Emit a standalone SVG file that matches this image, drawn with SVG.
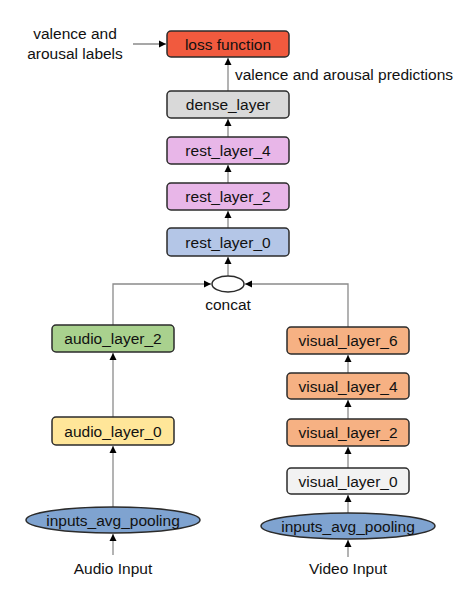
<svg xmlns="http://www.w3.org/2000/svg" width="474" height="604" viewBox="0 0 474 604">
<style>
.n{stroke:#2b2b2b;stroke-width:1.5}
.t{font-family:"Liberation Sans",Arial,sans-serif;font-size:15.5px;fill:#111;text-anchor:middle}
.l{stroke:#8a8a8a;stroke-width:1.3;fill:none}
</style>
<defs>
<marker id="ah" markerWidth="8" markerHeight="8" refX="7" refY="4" orient="auto" markerUnits="userSpaceOnUse">
<path d="M0,0.5 L7,4 L0,7.5 Z" fill="#000"/>
</marker>
</defs>
<rect width="474" height="604" fill="#fff"/>
<g id="connectors">
<line class="l" x1="133" y1="44" x2="166" y2="44" marker-end="url(#ah)"/>
<line class="l" x1="228" y1="91" x2="228" y2="58" marker-end="url(#ah)"/>
<line class="l" x1="228" y1="137" x2="228" y2="119" marker-end="url(#ah)"/>
<line class="l" x1="228" y1="183" x2="228" y2="165" marker-end="url(#ah)"/>
<line class="l" x1="228" y1="228" x2="228" y2="211" marker-end="url(#ah)"/>
<line class="l" x1="228" y1="276" x2="228" y2="257" marker-end="url(#ah)"/>
<polyline class="l" points="113,325 113,284 211,284" marker-end="url(#ah)"/>
<polyline class="l" points="348,327 348,284 245,284" marker-end="url(#ah)"/>
<line class="l" x1="113" y1="417" x2="113" y2="353" marker-end="url(#ah)"/>
<line class="l" x1="113" y1="507" x2="113" y2="446" marker-end="url(#ah)"/>
<line class="l" x1="113" y1="555" x2="113" y2="534" marker-end="url(#ah)"/>
<line class="l" x1="348" y1="373" x2="348" y2="355" marker-end="url(#ah)"/>
<line class="l" x1="348" y1="419" x2="348" y2="400" marker-end="url(#ah)"/>
<line class="l" x1="348" y1="468" x2="348" y2="447" marker-end="url(#ah)"/>
<line class="l" x1="348" y1="513" x2="348" y2="495" marker-end="url(#ah)"/>
<line class="l" x1="348" y1="557" x2="348" y2="540" marker-end="url(#ah)"/>
</g>
<g id="labels">
<text class="t" x="75" y="39">valence and</text>
<text class="t" x="75" y="59">arousal labels</text>
<text class="t" x="235" y="80" style="text-anchor:start">valence and arousal predictions</text>
</g>
<g id="loss_function"><rect class="n" x="167" y="31" width="122" height="26" rx="4" fill="#f15a3e"/><text class="t" x="228" y="49.5">loss function</text></g>
<g id="dense_layer"><rect class="n" x="167" y="91" width="122" height="27" rx="4" fill="#d9d9d9"/><text class="t" x="228" y="110">dense_layer</text></g>
<g id="rest_layer_4"><rect class="n" x="167" y="137" width="122" height="27" rx="4" fill="#e8b6e8"/><text class="t" x="228" y="156">rest_layer_4</text></g>
<g id="rest_layer_2"><rect class="n" x="167" y="183" width="122" height="27" rx="4" fill="#e8b6e8"/><text class="t" x="228" y="202">rest_layer_2</text></g>
<g id="rest_layer_0"><rect class="n" x="167" y="228" width="122" height="28" rx="4" fill="#b4c6e7"/><text class="t" x="228" y="247.5">rest_layer_0</text></g>
<g id="concat"><ellipse class="n" cx="228" cy="284" rx="16" ry="8" fill="#fff"/><text class="t" x="228" y="310">concat</text></g>
<g id="audio_layer_2"><rect class="n" x="52" y="325" width="122" height="27" rx="4" fill="#a9d18e"/><text class="t" x="113" y="344">audio_layer_2</text></g>
<g id="audio_layer_0"><rect class="n" x="52" y="417" width="122" height="28" rx="4" fill="#ffe699"/><text class="t" x="113" y="436.5">audio_layer_0</text></g>
<g id="audio_inputs_avg_pooling"><ellipse class="n" cx="113" cy="520" rx="87" ry="13" fill="#7fa3d0"/><text class="t" x="113" y="525.5">inputs_avg_pooling</text></g>
<g id="audio_input"><text class="t" x="113" y="574">Audio Input</text></g>
<g id="visual_layer_6"><rect class="n" x="287" y="327" width="122" height="27" rx="4" fill="#f6b183"/><text class="t" x="348" y="346">visual_layer_6</text></g>
<g id="visual_layer_4"><rect class="n" x="287" y="373" width="122" height="26" rx="4" fill="#f6b183"/><text class="t" x="348" y="391.5">visual_layer_4</text></g>
<g id="visual_layer_2"><rect class="n" x="287" y="419" width="122" height="27" rx="4" fill="#f6b183"/><text class="t" x="348" y="438">visual_layer_2</text></g>
<g id="visual_layer_0"><rect class="n" x="287" y="468" width="122" height="26" rx="4" fill="#f2f2f2"/><text class="t" x="348" y="486.5">visual_layer_0</text></g>
<g id="video_inputs_avg_pooling"><ellipse class="n" cx="348" cy="526" rx="87" ry="13" fill="#7fa3d0"/><text class="t" x="348" y="531.5">inputs_avg_pooling</text></g>
<g id="video_input"><text class="t" x="348" y="574">Video Input</text></g>
</svg>
